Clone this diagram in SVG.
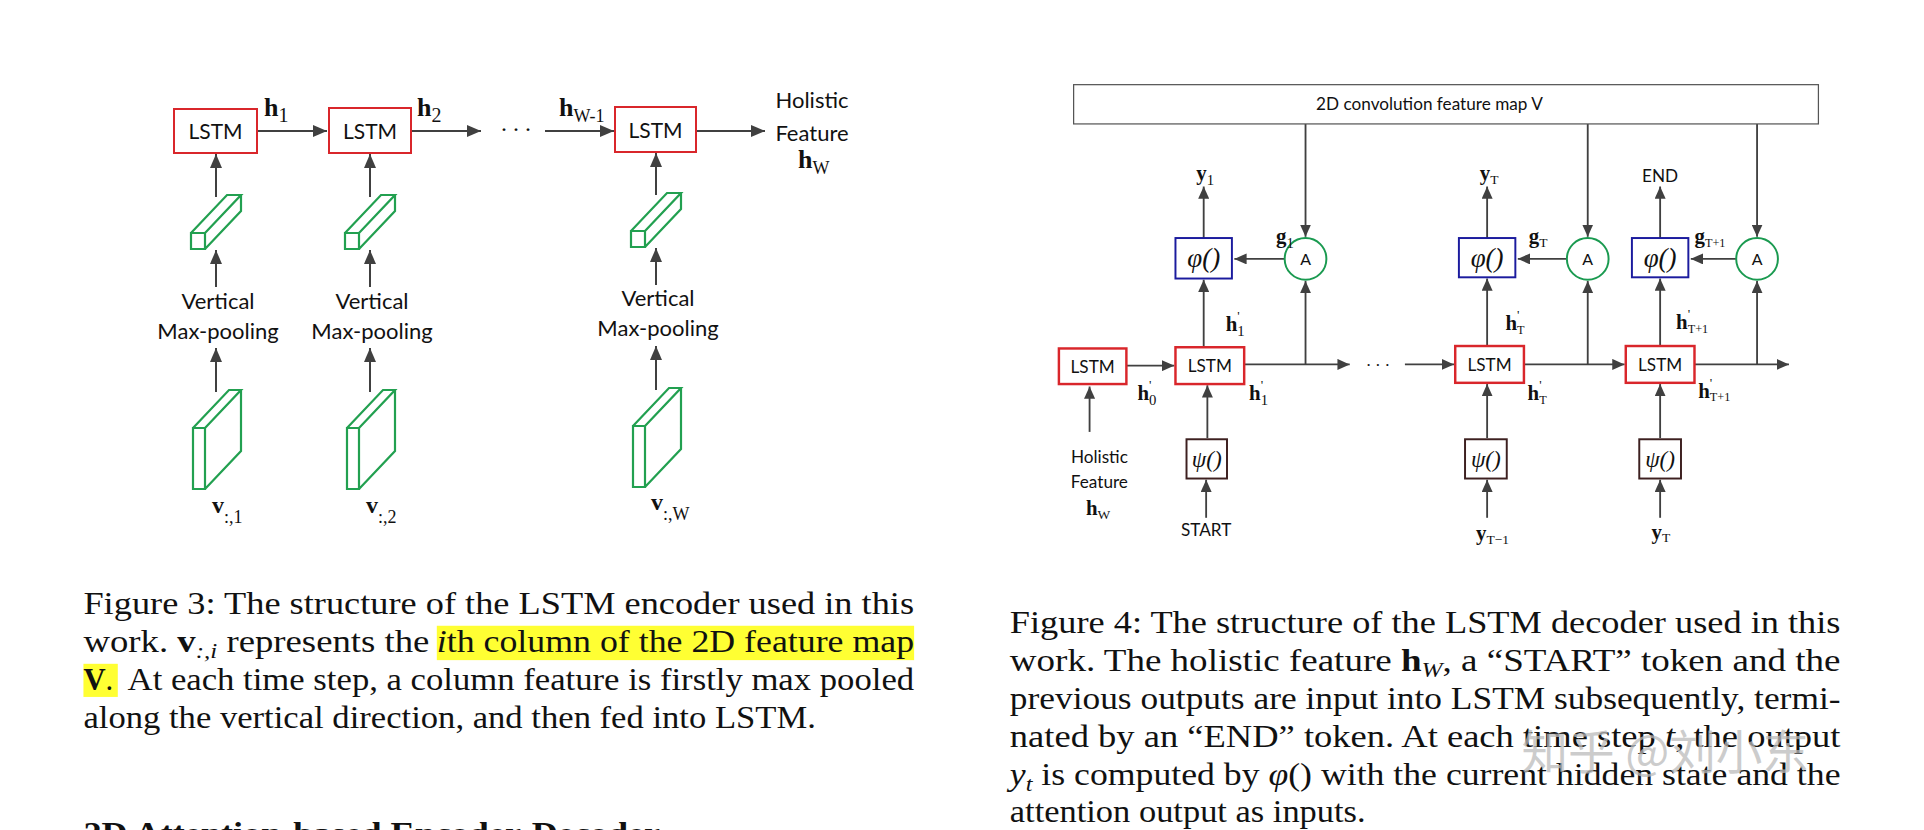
<svg xmlns="http://www.w3.org/2000/svg" width="1924" height="830" viewBox="0 0 1924 830">
<style>
.ln{stroke:#404040;stroke-width:2;fill:none}
.lr{stroke:#404040;stroke-width:1.5;fill:none}
.red{fill:#fff;stroke:#d9262b;stroke-width:2}
.blue{fill:#fff;stroke:#1b1b9e;stroke-width:1.6}
.brown{fill:#fff;stroke:#3d2020;stroke-width:1.6}
.grn{fill:#fff;stroke:#1a9a50;stroke-width:1.6}
.gs{fill:none;stroke:#22a050;stroke-width:2.2}
.sans{font-family:Lato,"Open Sans",sans-serif;fill:#111}
.ser{font-family:"Liberation Serif",serif;fill:#111}
.b{font-weight:bold}
.cap{font-family:"Liberation Serif",serif;font-size:25px;fill:#111}
</style>
<defs>
<marker id="a" markerUnits="userSpaceOnUse" markerWidth="14" markerHeight="12" refX="14" refY="6" orient="auto"><path d="M0,0L14,6L0,12z" fill="#404040"/></marker>
<marker id="b" markerUnits="userSpaceOnUse" markerWidth="10" markerHeight="9" refX="10" refY="4.5" orient="auto"><path d="M0,0L10,4.5L0,9z" fill="#404040"/></marker>
</defs>
<rect width="1924" height="830" fill="#fff"/>

<!-- LEFT FIGURE -->
<g id="enc-connectors">
<line class="ln" x1="257" y1="131" x2="327" y2="131" marker-end="url(#a)"/>
<line class="ln" x1="411" y1="131" x2="481" y2="131" marker-end="url(#a)"/>
<line class="ln" x1="545" y1="131" x2="614" y2="131" marker-end="url(#a)"/>
<line class="ln" x1="696" y1="131" x2="765" y2="131" marker-end="url(#a)"/>
<g><line class="ln" x1="216" y1="197" x2="216" y2="154" marker-end="url(#a)"/><line class="ln" x1="216" y1="287" x2="216" y2="250" marker-end="url(#a)"/><line class="ln" x1="216" y1="392" x2="216" y2="348" marker-end="url(#a)"/></g>
<g><line class="ln" x1="370" y1="197" x2="370" y2="154" marker-end="url(#a)"/><line class="ln" x1="370" y1="287" x2="370" y2="250" marker-end="url(#a)"/><line class="ln" x1="370" y1="392" x2="370" y2="348" marker-end="url(#a)"/></g>
<g><line class="ln" x1="656" y1="195" x2="656" y2="153" marker-end="url(#a)"/><line class="ln" x1="656" y1="285" x2="656" y2="248" marker-end="url(#a)"/><line class="ln" x1="656" y1="390" x2="656" y2="346" marker-end="url(#a)"/></g>
</g>
<g id="enc-lstm1"><rect class="red" x="174" y="109" width="83" height="44"/><text class="sans" x="215.5" y="139" font-size="21" text-anchor="middle">LSTM</text></g>
<g id="enc-lstm2"><rect class="red" x="329" y="108" width="82" height="45"/><text class="sans" x="370" y="139" font-size="21" text-anchor="middle">LSTM</text></g>
<g id="enc-lstm3"><rect class="red" x="615" y="107" width="81" height="45"/><text class="sans" x="655.5" y="138" font-size="21" text-anchor="middle">LSTM</text></g>
<text class="ser" x="500" y="137" font-size="24" letter-spacing="4">···</text>
<text class="ser b" x="264" y="116" font-size="26">h<tspan font-weight="normal" font-size="20" dy="6">1</tspan></text>
<text class="ser b" x="417" y="116" font-size="26">h<tspan font-weight="normal" font-size="20" dy="6">2</tspan></text>
<text class="ser b" x="559" y="116" font-size="26">h<tspan font-weight="normal" font-size="18" dy="6">W-1</tspan></text>
<g id="enc-out"><text class="sans" x="812" y="108" font-size="22" text-anchor="middle">Holistic</text><text class="sans" x="812" y="141" font-size="22" text-anchor="middle">Feature</text><text class="ser b" x="798" y="168" font-size="26">h<tspan font-weight="normal" font-size="18" dy="6">W</tspan></text></g>

<g id="col1">
<path class="gs" d="M191,233h14v16h-14zM191,233L227,195H241L205,233M241,195V211L205,249"/>
<text class="sans" x="218" y="309" font-size="22" text-anchor="middle">Vertical</text>
<text class="sans" x="218" y="339" font-size="22" text-anchor="middle">Max-pooling</text>
<path class="gs" d="M193,428h12v61h-12zM193,428L229,390H241L205,428M241,390V451L205,489"/>
<text class="ser b" x="212" y="513" font-size="24">v<tspan font-weight="normal" font-size="18" dy="10">:,1</tspan></text>
</g>
<g id="col2">
<path class="gs" d="M345,233h14v16h-14zM345,233L381,195H395L359,233M395,195V211L359,249"/>
<text class="sans" x="372" y="309" font-size="22" text-anchor="middle">Vertical</text>
<text class="sans" x="372" y="339" font-size="22" text-anchor="middle">Max-pooling</text>
<path class="gs" d="M347,428h12v61h-12zM347,428L383,390H395L359,428M395,390V451L359,489"/>
<text class="ser b" x="366" y="513" font-size="24">v<tspan font-weight="normal" font-size="18" dy="10">:,2</tspan></text>
</g>
<g id="col3">
<path class="gs" d="M631,231h14v16h-14zM631,231L667,193H681L645,231M681,193V209L645,247"/>
<text class="sans" x="658" y="306" font-size="22" text-anchor="middle">Vertical</text>
<text class="sans" x="658" y="336" font-size="22" text-anchor="middle">Max-pooling</text>
<path class="gs" d="M633,426h12v61h-12zM633,426L669,388H681L645,426M681,388V449L645,487"/>
<text class="ser b" x="651" y="510" font-size="24">v<tspan font-weight="normal" font-size="18" dy="10">:,W</tspan></text>
</g>

<!-- RIGHT FIGURE + CAPTIONS (reference coords scaled) -->
<g transform="scale(1.227)">
<g id="dec-connectors">
<line class="lr" x1="1064" y1="101" x2="1064" y2="193" marker-end="url(#b)"/>
<line class="lr" x1="1294" y1="101" x2="1294" y2="193" marker-end="url(#b)"/>
<line class="lr" x1="1432" y1="101" x2="1432" y2="193" marker-end="url(#b)"/>
<line class="lr" x1="981" y1="194" x2="981" y2="152" marker-end="url(#b)"/>
<line class="lr" x1="1212" y1="194" x2="1212" y2="152" marker-end="url(#b)"/>
<line class="lr" x1="1353" y1="194" x2="1353" y2="152" marker-end="url(#b)"/>
<line class="lr" x1="1047" y1="211" x2="1006" y2="211" marker-end="url(#b)"/>
<line class="lr" x1="1277" y1="211" x2="1237" y2="211" marker-end="url(#b)"/>
<line class="lr" x1="1415" y1="211" x2="1378" y2="211" marker-end="url(#b)"/>
<line class="lr" x1="981" y1="283" x2="981" y2="228" marker-end="url(#b)"/>
<line class="lr" x1="1212" y1="282" x2="1212" y2="227" marker-end="url(#b)"/>
<line class="lr" x1="1353" y1="282" x2="1353" y2="227" marker-end="url(#b)"/>
<line class="lr" x1="1064" y1="297" x2="1064" y2="229" marker-end="url(#b)"/>
<line class="lr" x1="1294" y1="297" x2="1294" y2="229" marker-end="url(#b)"/>
<line class="lr" x1="1432" y1="297" x2="1432" y2="229" marker-end="url(#b)"/>
<line class="lr" x1="918" y1="298" x2="957" y2="298" marker-end="url(#b)"/>
<line class="lr" x1="1014" y1="297" x2="1100" y2="297" marker-end="url(#b)"/>
<line class="lr" x1="1145" y1="297" x2="1185" y2="297" marker-end="url(#b)"/>
<line class="lr" x1="1242" y1="297" x2="1324" y2="297" marker-end="url(#b)"/>
<line class="lr" x1="1381" y1="297" x2="1458" y2="297" marker-end="url(#b)"/>
<line class="lr" x1="888" y1="352" x2="888" y2="315" marker-end="url(#b)"/>
<line class="lr" x1="984" y1="357" x2="984" y2="314" marker-end="url(#b)"/>
<line class="lr" x1="1212" y1="357" x2="1212" y2="313" marker-end="url(#b)"/>
<line class="lr" x1="1353" y1="357" x2="1353" y2="313" marker-end="url(#b)"/>
<line class="lr" x1="983" y1="422" x2="983" y2="391" marker-end="url(#b)"/>
<line class="lr" x1="1212" y1="422" x2="1212" y2="391" marker-end="url(#b)"/>
<line class="lr" x1="1353" y1="422" x2="1353" y2="391" marker-end="url(#b)"/>
</g>
<g id="fmap"><rect x="875" y="69" width="607" height="32" fill="#fff" stroke="#555" stroke-width="1"/><text class="sans" x="1165" y="90" font-size="14" text-anchor="middle">2D convolution feature map V</text></g>
<text class="ser" x="1113" y="302" font-size="14" letter-spacing="3">···</text>
<g id="lstm0"><rect class="red" x="863" y="284" width="55" height="29" stroke-width="1.5"/><text class="sans" x="890.5" y="304" font-size="14" text-anchor="middle">LSTM</text></g>
<g id="lstm1"><rect class="red" x="958" y="283" width="56" height="30" stroke-width="1.5"/><text class="sans" x="986" y="303" font-size="14" text-anchor="middle">LSTM</text></g>
<g id="lstmT"><rect class="red" x="1186" y="282" width="56" height="30" stroke-width="1.5"/><text class="sans" x="1214" y="302" font-size="14" text-anchor="middle">LSTM</text></g>
<g id="lstmT1"><rect class="red" x="1325" y="282" width="56" height="30" stroke-width="1.5"/><text class="sans" x="1353" y="302" font-size="14" text-anchor="middle">LSTM</text></g>
<g id="phi1"><rect class="blue" x="958" y="194" width="46" height="33"/><text class="ser" x="981" y="218" font-size="22" font-style="italic" text-anchor="middle">φ()</text></g>
<g id="phiT"><rect class="blue" x="1189" y="194" width="46" height="32"/><text class="ser" x="1212" y="218" font-size="22" font-style="italic" text-anchor="middle">φ()</text></g>
<g id="phiT1"><rect class="blue" x="1330" y="194" width="46" height="32"/><text class="ser" x="1353" y="218" font-size="22" font-style="italic" text-anchor="middle">φ()</text></g>
<g id="A1"><circle class="grn" cx="1064" cy="211" r="17"/><text class="sans" x="1064" y="216" font-size="13" text-anchor="middle">A</text></g>
<g id="AT"><circle class="grn" cx="1294" cy="211" r="17"/><text class="sans" x="1294" y="216" font-size="13" text-anchor="middle">A</text></g>
<g id="AT1"><circle class="grn" cx="1432" cy="211" r="17"/><text class="sans" x="1432" y="216" font-size="13" text-anchor="middle">A</text></g>
<g id="psi1"><rect class="brown" x="967" y="358" width="33" height="32"/><text class="ser" x="983.5" y="381" font-size="19" font-style="italic" text-anchor="middle">ψ()</text></g>
<g id="psiT"><rect class="brown" x="1194" y="358" width="34" height="32"/><text class="ser" x="1211" y="381" font-size="19" font-style="italic" text-anchor="middle">ψ()</text></g>
<g id="psiT1"><rect class="brown" x="1336" y="358" width="34" height="32"/><text class="ser" x="1353" y="381" font-size="19" font-style="italic" text-anchor="middle">ψ()</text></g>
<g font-size="17">
<text class="ser b" x="975" y="147">y<tspan font-weight="normal" font-size="12" dy="4">1</tspan></text>
<text class="ser b" x="1206" y="147">y<tspan font-weight="normal" font-size="11" dy="3">T</tspan></text>
<text class="sans" x="1353" y="148" font-size="14" text-anchor="middle">END</text>
<text class="ser b" x="1040" y="198">g<tspan font-weight="normal" font-size="12" dy="4">1</tspan></text>
<text class="ser b" x="1246" y="198">g<tspan font-weight="normal" font-size="11" dy="3">T</tspan></text>
<text class="ser b" x="1381" y="198">g<tspan font-weight="normal" font-size="10" dy="3">T+1</tspan></text>
<text class="ser b" x="999" y="270">h<tspan font-weight="normal" font-size="11" dy="-9">'</tspan><tspan font-weight="normal" font-size="12" dx="-2" dy="13">1</tspan></text>
<text class="ser b" x="1227" y="269">h<tspan font-weight="normal" font-size="11" dy="-9">'</tspan><tspan font-weight="normal" font-size="10" dx="-2" dy="12">T</tspan></text>
<text class="ser b" x="1366" y="268">h<tspan font-weight="normal" font-size="11" dy="-9">'</tspan><tspan font-weight="normal" font-size="10" dx="-2" dy="12">T+1</tspan></text>
<text class="ser b" x="927" y="326">h<tspan font-weight="normal" font-size="11" dy="-9">'</tspan><tspan font-weight="normal" font-size="12" dx="-2" dy="13">0</tspan></text>
<text class="ser b" x="1018" y="326">h<tspan font-weight="normal" font-size="11" dy="-9">'</tspan><tspan font-weight="normal" font-size="12" dx="-2" dy="13">1</tspan></text>
<text class="ser b" x="1245" y="326">h<tspan font-weight="normal" font-size="11" dy="-9">'</tspan><tspan font-weight="normal" font-size="10" dx="-2" dy="12">T</tspan></text>
<text class="ser b" x="1384" y="324">h<tspan font-weight="normal" font-size="11" dy="-9">'</tspan><tspan font-weight="normal" font-size="10" dx="-2" dy="12">T+1</tspan></text>
<text class="sans" x="896" y="377" font-size="14" text-anchor="middle">Holistic</text>
<text class="sans" x="896" y="398" font-size="14" text-anchor="middle">Feature</text>
<text class="ser b" x="885" y="420">h<tspan font-weight="normal" font-size="11" dy="3">W</tspan></text>
<text class="sans" x="983" y="437" font-size="14" text-anchor="middle">START</text>
<text class="ser b" x="1203" y="440">y<tspan font-weight="normal" font-size="11" dy="3">T−1</tspan></text>
<text class="ser b" x="1346" y="439">y<tspan font-weight="normal" font-size="11" dy="3">T</tspan></text>
</g>

<g id="caption3">
<rect x="356" y="510" width="389" height="28" fill="#ffff33"/>
<rect x="68" y="541" width="28" height="27" fill="#ffff33"/>
<text class="cap" x="68" y="500" textLength="677" lengthAdjust="spacingAndGlyphs">Figure 3: The structure of the LSTM encoder used in this</text>
<text class="cap" x="68" y="531" textLength="282" lengthAdjust="spacingAndGlyphs">work. <tspan font-weight="bold">v</tspan><tspan font-size="17" dy="5" font-style="italic">:,i</tspan><tspan dy="-5"> represents the</tspan></text>
<text class="cap" x="356" y="531" textLength="389" lengthAdjust="spacingAndGlyphs"><tspan font-style="italic">i</tspan>th column of the 2D feature map</text>
<text class="cap" x="68" y="562"><tspan font-weight="bold">V</tspan>.</text>
<text class="cap" x="104" y="562" textLength="641" lengthAdjust="spacingAndGlyphs">At each time step, a column feature is firstly max pooled</text>
<text class="cap" x="68" y="593" textLength="597" lengthAdjust="spacingAndGlyphs">along the vertical direction, and then fed into LSTM.</text>
<text class="cap" x="68" y="688" font-size="29" font-weight="bold" textLength="470" lengthAdjust="spacingAndGlyphs">2D Attention-based Encoder-Decoder</text>
</g>
<g id="caption4">
<text class="cap" x="823" y="516" textLength="677" lengthAdjust="spacingAndGlyphs">Figure 4: The structure of the LSTM decoder used in this</text>
<text class="cap" x="823" y="547" textLength="677" lengthAdjust="spacingAndGlyphs">work. The holistic feature <tspan font-weight="bold">h</tspan><tspan font-size="17" dy="5" font-style="italic">W</tspan><tspan dy="-5">, a “START” token and the</tspan></text>
<text class="cap" x="823" y="578" textLength="677" lengthAdjust="spacingAndGlyphs">previous outputs are input into LSTM subsequently, termi-</text>
<text class="cap" x="823" y="609" textLength="677" lengthAdjust="spacingAndGlyphs">nated by an “END” token. At each time step <tspan font-style="italic">t</tspan>, the output</text>
<text class="cap" x="823" y="640" textLength="677" lengthAdjust="spacingAndGlyphs"><tspan font-style="italic">y</tspan><tspan font-size="17" dy="5" font-style="italic">t</tspan><tspan dy="-5"> is computed by </tspan><tspan font-style="italic">φ</tspan>() with the current hidden state and the</text>
<text class="cap" x="823" y="670" textLength="290" lengthAdjust="spacingAndGlyphs">attention output as inputs.</text>
</g>
<text x="1240" y="627" font-family="'Noto Sans CJK SC',sans-serif" font-size="38" fill="#bbb" fill-opacity="0.75">知乎 @刘小东</text>
</g>
</svg>
